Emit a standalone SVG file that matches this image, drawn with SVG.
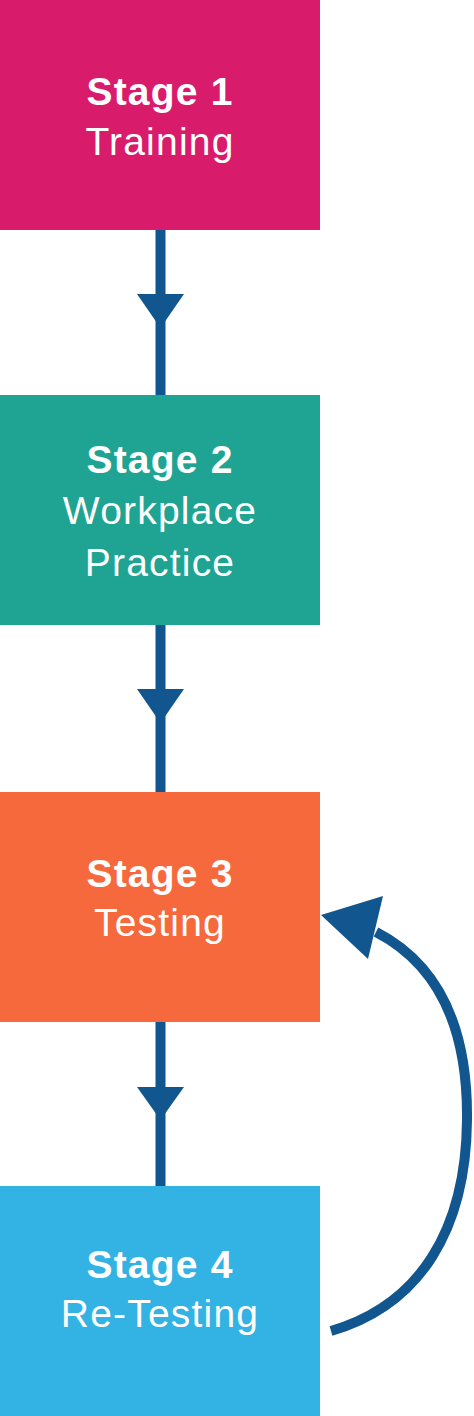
<svg xmlns="http://www.w3.org/2000/svg" width="474" height="1416" viewBox="0 0 474 1416">
<style>
.t{font-family:"Liberation Sans",Arial,sans-serif;font-size:39px;fill:#fff;text-anchor:middle;letter-spacing:1.2px}
.b{font-weight:bold}
.ln{stroke:#11568F;stroke-width:10;fill:none}
.ah{fill:#11568F}
</style>
<rect width="474" height="1416" fill="#fff"/>
<g id="connectors">
<line class="ln" x1="160.5" y1="230" x2="160.5" y2="395"/>
<polygon class="ah" points="137,294 184,294 160.5,328"/>
<line class="ln" x1="160.5" y1="625" x2="160.5" y2="792"/>
<polygon class="ah" points="137,689 184,689 160.5,723"/>
<line class="ln" x1="160.5" y1="1022" x2="160.5" y2="1186"/>
<polygon class="ah" points="137,1087 184,1087 160.5,1120"/>
<path class="ln" d="M331,1331 C420,1305 466,1230 467,1120 C468,1030 440,965 376,932"/>
<polygon class="ah" points="321,915 383,896 368,959"/>
</g>
<g id="stage1">
<rect x="0" y="0" width="320" height="230" fill="#D81B6B"/>
<text class="t b" x="160" y="105">Stage 1</text>
<text class="t" x="160" y="155">Training</text>
</g>
<g id="stage2">
<rect x="0" y="395" width="320" height="230" fill="#1FA392"/>
<text class="t b" x="160" y="473">Stage 2</text>
<text class="t" x="160" y="524">Workplace</text>
<text class="t" x="160" y="576">Practice</text>
</g>
<g id="stage3">
<rect x="0" y="792" width="320" height="230" fill="#F5693C"/>
<text class="t b" x="160" y="887">Stage 3</text>
<text class="t" x="160" y="936">Testing</text>
</g>
<g id="stage4">
<rect x="0" y="1186" width="320" height="230" fill="#33B2E4"/>
<text class="t b" x="160" y="1278">Stage 4</text>
<text class="t" x="160" y="1327">Re-Testing</text>
</g>
</svg>
